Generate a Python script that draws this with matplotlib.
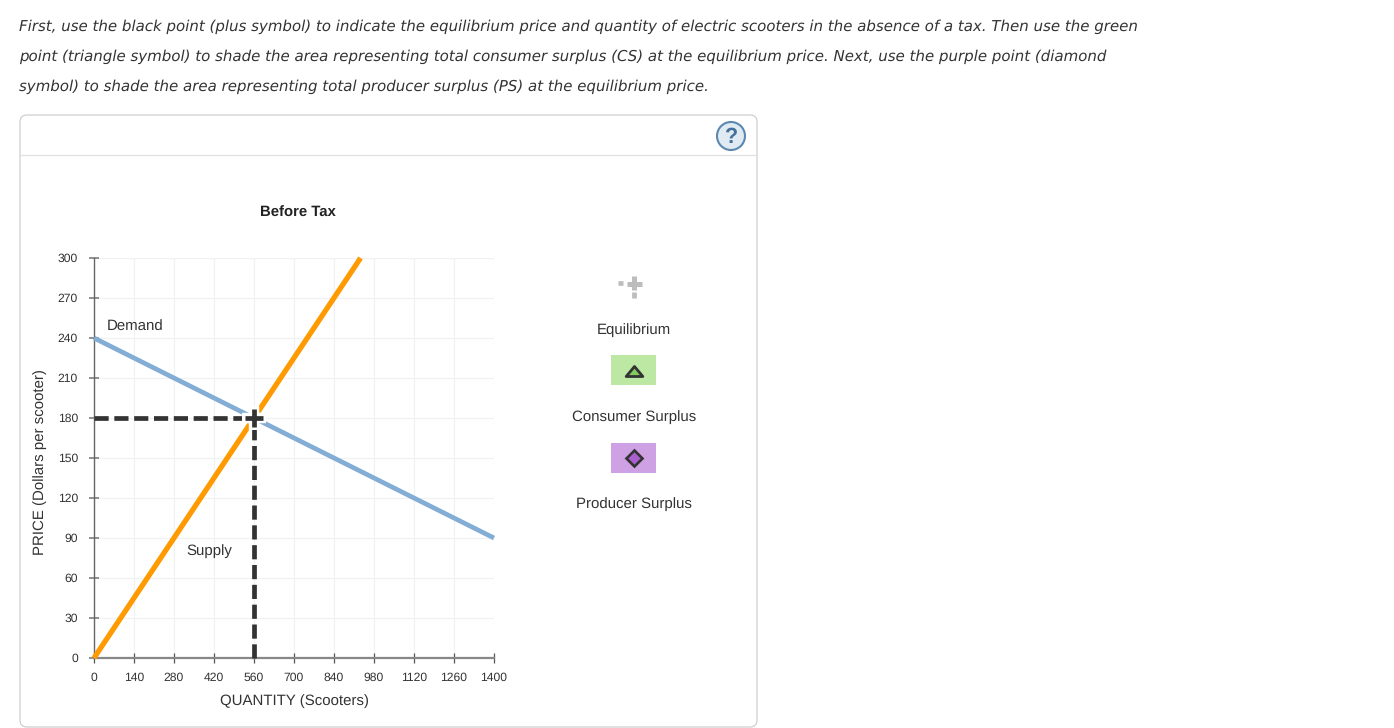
import matplotlib
matplotlib.use("Agg")
import matplotlib.pyplot as plt
from matplotlib.patches import FancyBboxPatch, Rectangle, Circle
from matplotlib.path import Path

W, H = 1394, 728
plt.rcParams['font.family'] = ['Liberation Sans', 'DejaVu Sans']
plt.rcParams['text.hinting'] = 'none'

instructions = [
    "First, use the black point (plus symbol) to indicate the equilibrium price and quantity of electric scooters in the absence of a tax. Then use the green",
    "point (triangle symbol) to shade the area representing total consumer surplus (CS) at the equilibrium price. Next, use the purple point (diamond",
    "symbol) to shade the area representing total producer surplus (PS) at the equilibrium price.",
]
x_ticks = [0, 140, 280, 420, 560, 700, 840, 980, 1120, 1260, 1400]
y_ticks = [0, 30, 60, 90, 120, 150, 180, 210, 240, 270, 300]
demand_q = [0, 1400]
demand_p = [240, 90]
supply_q = [0, 933]
supply_p = [0, 300]
eq_q = 560
eq_p = 180
legend_labels = ["Equilibrium", "Consumer Surplus", "Producer Surplus"]

fig = plt.figure(figsize=(W / 100, H / 100), dpi=100, facecolor='white')

# page overlay in pixel coordinates
bg = fig.add_axes([0, 0, 1, 1], zorder=0)
bg.set_xlim(0, W); bg.set_ylim(H, 0); bg.axis('off')
for ypos, line in zip([27, 57, 87], instructions):
    bg.text(19, ypos, line, fontsize=10.845, family='DejaVu Sans', style='italic',
            color='#333333', va='center', ha='left')
bg.add_patch(FancyBboxPatch((20, 115), 737, 612, boxstyle="round,pad=0,rounding_size=7",
                            fc='white', ec='#cfcfcf', lw=0.9))
bg.plot([20, 757], [155, 155], color='#e0e0e0', lw=0.9)
bg.add_patch(Circle((731, 136), 14, fc='#e0eaf2', ec='#5b88b0', lw=1.5))
bg.text(731, 137, "?", fontsize=15.5, fontweight='bold', color='#44709a', ha='center', va='center')
bg.text(297.5, 213, "Before Tax", fontsize=10.7, fontweight='bold', color='#222222', ha='center', va='center')
bg.text(40.5, 462, "PRICE (Dollars per scooter)", fontsize=10.8, color='#333333',
        rotation=90, ha='center', va='center')
bg.text(294.5, 701, "QUANTITY (Scooters)", fontsize=10.8, color='#333333', ha='center', va='center')

# legend
gray = '#bdbdbd'
bg.plot([634, 634], [276, 290], color=gray, lw=3.6, solid_capstyle='butt')
bg.plot([627, 642], [283.5, 283.5], color=gray, lw=3.6, solid_capstyle='butt')
bg.plot([617.5, 622.5], [283, 283], color=gray, lw=3.4, solid_capstyle='butt')
bg.plot([634, 634], [292, 298], color=gray, lw=3.4, solid_capstyle='butt')
bg.add_patch(Rectangle((611, 355), 45, 30, fc='#bce8a4', ec='none'))
flat_triangle = Path([(-1, -0.6), (1, -0.6), (0, 0.6), (-1, -0.6)], closed=True)
bg.plot([634], [371], marker=flat_triangle, ms=12, mfc='#83cc5f', mec='#333333', mew=2.0, ls='none')
bg.add_patch(Rectangle((611, 443), 45, 30, fc='#cda1e4', ec='none'))
bg.plot([634], [458], marker='D', ms=8, mfc='#a95fd0', mec='#333333', mew=1.9, ls='none')
for ypos, label in zip([330, 417, 504], legend_labels):
    bg.text(634, ypos, label, fontsize=10.8, color='#333333', ha='center', va='center')

# chart
left, right, top, bottom = 94, 494, 258, 658
ax = fig.add_axes([left / W, 1 - bottom / H, (right - left) / W, (bottom - top) / H], zorder=1)
ax.patch.set_alpha(0)
ax.set_xlim(0, 1400); ax.set_ylim(0, 300)
ax.set_xticks(x_ticks); ax.set_yticks(y_ticks)
ax.grid(True, color='#f1f1f1', lw=0.9)
ax.set_axisbelow(True)
for s in ['top', 'right']:
    ax.spines[s].set_visible(False)
ax.spines['left'].set_color('#666666')
ax.spines['left'].set_linewidth(1.0)
ax.spines['bottom'].set_color('#888888')
ax.spines['bottom'].set_linewidth(1.6)
ax.tick_params(axis='x', direction='inout', length=7.2, width=0.9, color='#555555',
               labelsize=8.7, labelcolor='#333333', pad=6.4)
ax.tick_params(axis='y', direction='inout', length=7.2, width=1.3, color='#888888',
               labelsize=8.7, labelcolor='#333333', pad=7.9)

ax.plot(demand_q, demand_p, color='#82add4', lw=3.4, solid_capstyle='butt', clip_on=False, zorder=3)
ax.plot(supply_q, supply_p, color='#ff9a00', lw=3.8, solid_capstyle='butt', clip_on=False, zorder=3)
ax.plot([0, eq_q], [eq_p, eq_p], color='#333333', lw=3.4, dashes=(3.0, 1.2), clip_on=False, zorder=4)
ax.plot([eq_q, eq_q], [0, eq_p], color='#333333', lw=3.4, dashes=(3.0, 1.2), clip_on=False, zorder=4)
ax.plot([eq_q], [eq_p], marker='+', ms=17, mew=7.5, color='white', ls='none', zorder=5)
ax.plot([eq_q], [eq_p], marker='+', ms=13, mew=3.4, color='#333333', ls='none', zorder=6)

ax.text(45, 248.3, "Demand", fontsize=10.8, color='#333333', ha='left', va='center')
ax.text(322, 80, "Supply", fontsize=10.8, color='#333333', ha='left', va='center')

fig.savefig("out.png", dpi=100)
